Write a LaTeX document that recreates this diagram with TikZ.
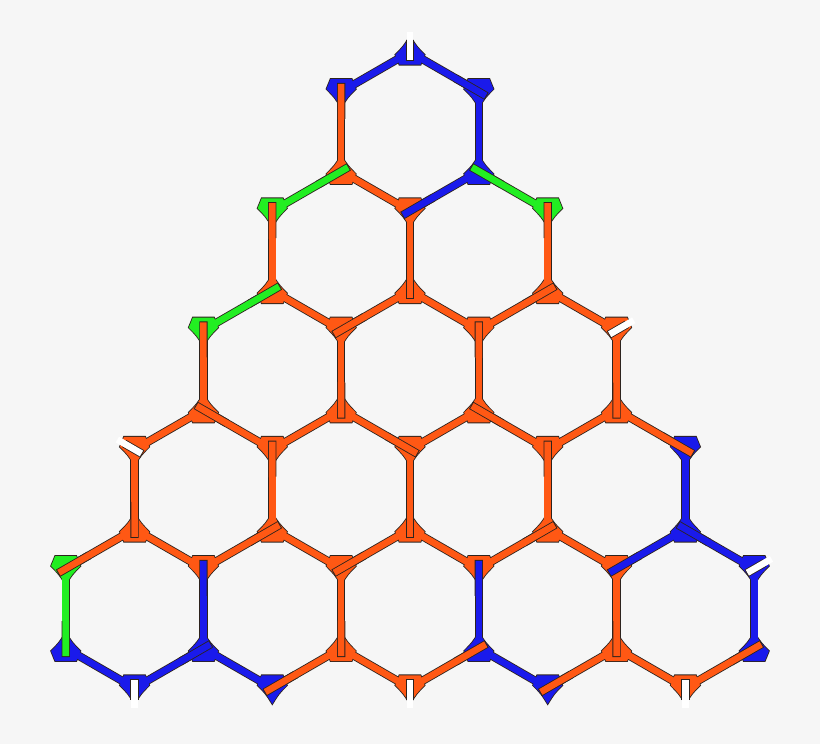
\documentclass[tikz,border=0pt]{standalone}
\usetikzlibrary{calc}

\definecolor{orng}{RGB}{255,88,20}
\definecolor{blu}{RGB}{26,26,235}
\definecolor{grn}{RGB}{34,238,34}
\definecolor{rim}{RGB}{45,35,30}
\definecolor{paper}{RGB}{246,246,246}

\tikzset{
  rimroad/.style={draw=rim,line width=2.96pt},
  road/.style={line width=2.36pt},
  rimblob/.style={fill=rim,draw=rim,line width=0.6pt}
}

% one joint: flat side on the two slanted arms, tapered towards the upright arm
\def\joint{(-0.133,0.16) -- (0.133,0.16) -- (0.184,0.034)
  .. controls (0.08,-0.07) .. (0,-0.2) .. controls (-0.08,-0.07) .. (-0.184,0.034) -- cycle}

% name/a/b/turn/colour  (x = a*sqrt3/2, y = b/2)
\def\corners{a1/0/2/180/blu,
  b1/-1/1/0/blu, b2/1/1/0/blu,
  c1/-1/-1/180/orng, c2/1/-1/180/blu,
  d1/-2/-2/0/grn, d2/0/-2/0/orng, d3/2/-2/0/grn,
  e1/-2/-4/180/orng, e2/0/-4/180/orng, e3/2/-4/180/orng,
  f1/-3/-5/0/grn, f2/-1/-5/0/orng, f3/1/-5/0/orng, f4/3/-5/0/orng,
  g1/-3/-7/180/orng, g2/-1/-7/180/orng, g3/1/-7/180/orng, g4/3/-7/180/orng,
  h1/-4/-8/0/orng, h2/-2/-8/0/orng, h3/0/-8/0/orng, h4/2/-8/0/orng, h5/4/-8/0/blu,
  i1/-4/-10/180/orng, i2/-2/-10/180/orng, i3/0/-10/180/orng, i4/2/-10/180/orng, i5/4/-10/180/blu,
  j1/-5/-11/0/grn, j2/-3/-11/0/orng, j3/-1/-11/0/orng, j4/1/-11/0/orng, j5/3/-11/0/orng, j6/5/-11/0/blu,
  k1/-5/-13/180/blu, k2/-3/-13/180/blu, k3/-1/-13/180/orng, k4/1/-13/180/blu, k5/3/-13/180/orng, k6/5/-13/180/blu,
  l1/-4/-14/0/blu, l2/-2/-14/0/blu, l3/0/-14/0/orng, l4/2/-14/0/blu, l5/4/-14/0/orng}

\def\roads{a1/b2/blu, b2/c2/blu, c2/d2/blu, d2/c1/orng, c1/b1/orng, b1/a1/blu,
  d2/e2/orng, e2/f2/orng, f2/e1/orng, e1/d1/orng, d1/c1/grn,
  c2/d3/grn, d3/e3/orng, e3/f3/orng, f3/e2/orng,
  f2/g2/orng, g2/h2/orng, h2/g1/orng, g1/f1/orng, f1/e1/grn,
  f3/g3/orng, g3/h3/orng, h3/g2/orng,
  e3/f4/orng, f4/g4/orng, g4/h4/orng, h4/g3/orng,
  h2/i2/orng, i2/j2/orng, j2/i1/orng, i1/h1/orng, h1/g1/orng,
  h3/i3/orng, i3/j3/orng, j3/i2/orng,
  h4/i4/orng, i4/j4/orng, j4/i3/orng,
  g4/h5/orng, h5/i5/blu, i5/j5/blu, j5/i4/orng,
  j2/k2/blu, k2/l1/blu, l1/k1/blu, k1/j1/grn, j1/i1/orng,
  j3/k3/orng, k3/l2/orng, l2/k2/blu,
  j4/k4/blu, k4/l3/orng, l3/k3/orng,
  j5/k5/orng, k5/l4/orng, l4/k4/blu,
  i5/j6/blu, j6/k6/blu, k6/l5/orng, l5/k5/orng}

% capped corner/other end/colour
\def\caps{b1/c1/orng, b2/a1/blu, c1/d1/grn, c2/d3/grn,
  d1/e1/orng, d2/c2/blu, d3/e3/orng,
  e1/f1/grn, e2/d2/orng, e3/f3/orng,
  f1/g1/orng, f2/e2/orng, f3/g3/orng,
  g1/h2/orng, g2/f2/orng, g3/h4/orng, g4/f4/orng,
  h2/i2/orng, h3/g2/orng, h4/i4/orng, h5/g4/orng,
  i1/h1/orng, i2/j2/orng, i3/h3/orng, i4/j4/orng, i5/j6/blu,
  j1/i1/orng, j2/k2/blu, j3/i3/orng, j4/k4/blu, j5/i5/blu,
  k1/j1/grn, k2/l1/blu, k3/j3/orng, k4/l3/orng, k5/j5/orng, k6/l5/orng,
  l2/k3/orng, l4/k5/orng}

\begin{document}
\begin{tikzpicture}

  \fill[paper] (-5.157,1.654) rectangle (5.157,-7.704);
  \useasboundingbox (-5.157,1.654) rectangle (5.157,-7.704);

  \foreach \n/\ax/\by/\turn/\col in \corners
    \coordinate (\n) at ({\ax*0.8660254},{\by*0.5});

  % outlines first
  \foreach \n/\ax/\by/\turn/\col in \corners
    \path[rimblob,shift={(\n)},rotate=\turn] \joint;
  \foreach \u/\v/\col in \roads
    \path[rimroad] (\u) -- (\v);

  % then the colours
  \foreach \n/\ax/\by/\turn/\col in \corners
    \fill[\col,shift={(\n)},rotate=\turn] \joint;
  \foreach \u/\v/\col in \roads
    \draw[road,\col] (\u) -- (\v);

  % square road ends
  \foreach \v/\u/\col in \caps {
    \path[rimroad] ($(\v)!0.34!(\u)$) -- ($(\v)!-0.112!(\u)$);
    \draw[road,\col] ($(\v)!0.35!(\u)$) -- ($(\v)!-0.1!(\u)$);
  }

  % white stubs on the rim
  \foreach \v/\d in {a1/90, f4/30, h1/150, j6/30, l1/270, l3/270, l5/270} {
    \path[rimroad] ([shift={(\d:0.15)}]\v) -- ([shift={(\d:-0.112)}]\v);
    \draw[road,white] ([shift={(\d:0.25)}]\v) -- ([shift={(\d:-0.1)}]\v);
  }

\end{tikzpicture}
\end{document}
